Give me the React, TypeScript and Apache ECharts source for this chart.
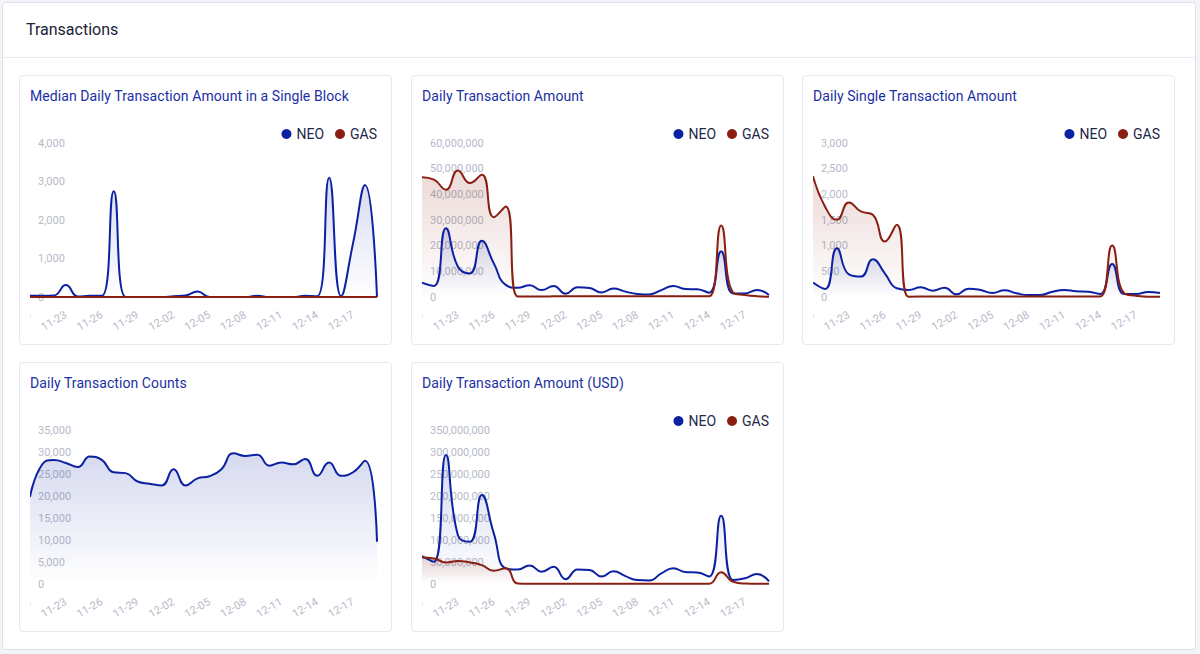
import React, { useEffect, useRef } from "react";
import * as echarts from "echarts";

const dates = [
  "11-20", "11-21", "11-22", "11-23", "11-24", "11-25", "11-26", "11-27", "11-28", "11-29", "11-30",
  "12-01", "12-02", "12-03", "12-04", "12-05", "12-06", "12-07", "12-08", "12-09", "12-10",
  "12-11", "12-12", "12-13", "12-14", "12-15", "12-16", "12-17", "12-18", "12-19",
];

const medianNeo = [30, 30, 40, 310, 15, 30, 30, 2750, 0, 0, 0, 0, 20, 40, 140, 0, 0, 0, 0, 30, 0, 0, 0, 30, 20, 3100, 20, 1400, 2910, 0];
const medianGas = [3, 3, 3, 3, 3, 3, 3, 3, 3, 3, 3, 3, 3, 3, 3, 3, 3, 3, 3, 3, 3, 3, 3, 3, 3, 3, 3, 3, 3, 3];

const amountNeo = [5.6e6, 4.3e6, 26.8e6, 11.8e6, 9.2e6, 21.9e6, 13.1e6, 4.7e6, 3.6e6, 4.6e6, 2.7e6, 4.3e6, 1.3e6, 3.8e6, 3.5e6, 1.8e6, 3.3e6, 2.1e6, 1.2e6, 1.0e6, 2.7e6, 4.3e6, 3.1e6, 3.0e6, 1.7e6, 17.7e6, 1.4e6, 1.4e6, 2.7e6, 0.8e6];
const amountGas = [46.7e6, 45.7e6, 41.8e6, 49.3e6, 44.4e6, 47.6e6, 31.1e6, 35.3e6, 0.2e6, 0.2e6, 0.2e6, 0.25e6, 0.3e6, 0.3e6, 0.3e6, 0.3e6, 0.3e6, 0.3e6, 0.3e6, 0.3e6, 0.3e6, 0.3e6, 0.3e6, 0.3e6, 0.3e6, 27.9e6, 1.7e6, 0.8e6, 0.3e6, 0.1e6];

const singleNeo = [280, 156, 950, 440, 397, 735, 462, 170, 137, 189, 124, 182, 52, 163, 137, 78, 130, 72, 39, 39, 104, 137, 111, 104, 59, 644, 59, 59, 98, 78];
const singleGas = [2350, 1764, 1503, 1842, 1666, 1601, 1080, 1406, 5, 8, 10, 10, 10, 10, 10, 10, 10, 10, 10, 10, 10, 10, 10, 10, 10, 1002, 72, 26, 5, 3];

const countNeo = [19800, 27100, 28200, 27500, 26600, 29000, 28200, 25400, 25200, 23300, 22800, 22400, 26100, 22400, 24000, 24500, 26100, 29700, 29100, 29400, 26900, 27600, 27200, 28400, 24600, 27600, 24600, 25400, 28000, 9600];

const usdNeo = [63.6e6, 50.8e6, 293e6, 111e6, 96e6, 202e6, 115e6, 35.6e6, 33e6, 42e6, 28e6, 39e6, 11e6, 33e6, 32e6, 17e6, 29e6, 18e6, 9e6, 8e6, 24e6, 36e6, 27e6, 26e6, 17e6, 155e6, 9e6, 13e6, 23e6, 6e6];
const usdGas = [60e6, 58e6, 49e6, 52e6, 49e6, 43e6, 30e6, 36e6, 1e6, 0.5e6, 0.5e6, 0.5e6, 0.5e6, 0.5e6, 0.5e6, 0.5e6, 0.5e6, 0.5e6, 0.5e6, 0.5e6, 0.5e6, 0.5e6, 0.5e6, 0.5e6, 0.5e6, 26.5e6, 5e6, 1e6, 0.5e6, 0.5e6];

const FONT = "Roboto, 'Noto Sans', sans-serif";
const NEO_COLOR = "#0c21a2";
const GAS_COLOR = "#8a1e12";
const AXIS_COLOR = "#b6bac8";

type SeriesDef = { name: string; data: number[]; color: string; rgb: string };

function areaGradient(rgb: string) {
  return new echarts.graphic.LinearGradient(0, 0, 0, 1, [
    { offset: 0, color: `rgba(${rgb},0.24)` },
    { offset: 1, color: `rgba(${rgb},0)` },
  ]);
}

function buildOption(series: SeriesDef[], max: number, interval: number, legend: boolean) {
  return {
    animation: false,
    textStyle: { fontFamily: FONT },
    legend: legend
      ? {
          right: 3,
          top: 12,
          padding: 0,
          icon: "circle",
          itemWidth: 10,
          itemHeight: 10,
          itemGap: 11,
          textStyle: { fontSize: 14, color: "#1e2848", fontFamily: FONT },
          data: series.map((s) => s.name),
        }
      : { show: false },
    grid: { left: 0, right: 3, top: 28, bottom: 43, containLabel: false, outerBoundsMode: "none" },
    xAxis: {
      type: "category",
      boundaryGap: false,
      data: dates,
      axisLine: { show: false },
      axisTick: { show: false },
      axisLabel: { rotate: 30, interval: 2, color: AXIS_COLOR, fontSize: 11, margin: 17, fontFamily: FONT },
    },
    yAxis: {
      type: "value",
      min: 0,
      max,
      interval,
      splitLine: { show: false },
      axisLine: { show: false },
      axisTick: { show: false },
      axisLabel: {
        inside: true,
        color: AXIS_COLOR,
        fontSize: 11,
        margin: 8,
        fontFamily: FONT,
        formatter: (v: number) => v.toLocaleString("en-US"),
      },
    },
    series: series.map((s) => ({
      name: s.name,
      type: "line",
      smooth: true,
      showSymbol: false,
      symbol: "circle",
      data: s.data,
      itemStyle: { color: s.color },
      lineStyle: { color: s.color, width: 2 },
      areaStyle: { color: areaGradient(s.rgb) },
    })),
  };
}

function Chart({ option }: { option: any }) {
  const ref = useRef<HTMLDivElement>(null);
  useEffect(() => {
    if (!ref.current) return;
    const chart = echarts.init(ref.current, undefined, { renderer: "svg" });
    chart.setOption(option);
    return () => chart.dispose();
  }, [option]);
  return <div ref={ref} style={{ position: "absolute", left: 10, top: 39, width: 350, height: 225, overflow: "hidden" }} />;
}

const NEO = (data: number[]): SeriesDef => ({ name: "NEO", data, color: NEO_COLOR, rgb: "12,33,162" });
const GAS = (data: number[]): SeriesDef => ({ name: "GAS", data, color: GAS_COLOR, rgb: "138,30,18" });

const cards = [
  { title: "Median Daily Transaction Amount in a Single Block", left: 19, top: 75, option: buildOption([NEO(medianNeo), GAS(medianGas)], 4000, 1000, true) },
  { title: "Daily Transaction Amount", left: 411, top: 75, option: buildOption([NEO(amountNeo), GAS(amountGas)], 60000000, 10000000, true) },
  { title: "Daily Single Transaction Amount", left: 802, top: 75, option: buildOption([NEO(singleNeo), GAS(singleGas)], 3000, 500, true) },
  { title: "Daily Transaction Counts", left: 19, top: 362, option: buildOption([NEO(countNeo)], 35000, 5000, false) },
  { title: "Daily Transaction Amount (USD)", left: 411, top: 362, option: buildOption([NEO(usdNeo), GAS(usdGas)], 350000000, 50000000, true) },
];

export default function App() {
  return (
    <div style={{ position: "absolute", left: 0, top: 0, width: 1200, height: 654, background: "#f3f4f7", fontFamily: FONT, overflow: "hidden" }}>
      <div
        style={{
          position: "absolute",
          left: 2,
          top: 2,
          width: 1192,
          height: 646,
          background: "#ffffff",
          border: "1px solid #dde1ea",
          borderRadius: 4,
        }}
      >
        <div style={{ position: "absolute", left: 23, top: 16, fontSize: 16, color: "#1d2436", lineHeight: "22px" }}>Transactions</div>
        <div style={{ position: "absolute", left: 0, right: 0, top: 54, height: 1, background: "#e9ebf0" }} />
      </div>
      {cards.map((c, i) => (
        <div
          key={i}
          style={{
            position: "absolute",
            left: c.left,
            top: c.top,
            width: 371,
            height: 268,
            border: "1px solid #e6e8ee",
            borderRadius: 4,
            background: "#ffffff",
          }}
        >
          <div style={{ position: "absolute", left: 10, top: 10, fontSize: 14, letterSpacing: "0.08px", lineHeight: "20px", color: "#1a2fa3", whiteSpace: "nowrap" }}>{c.title}</div>
          <Chart option={c.option} />
        </div>
      ))}
    </div>
  );
}
